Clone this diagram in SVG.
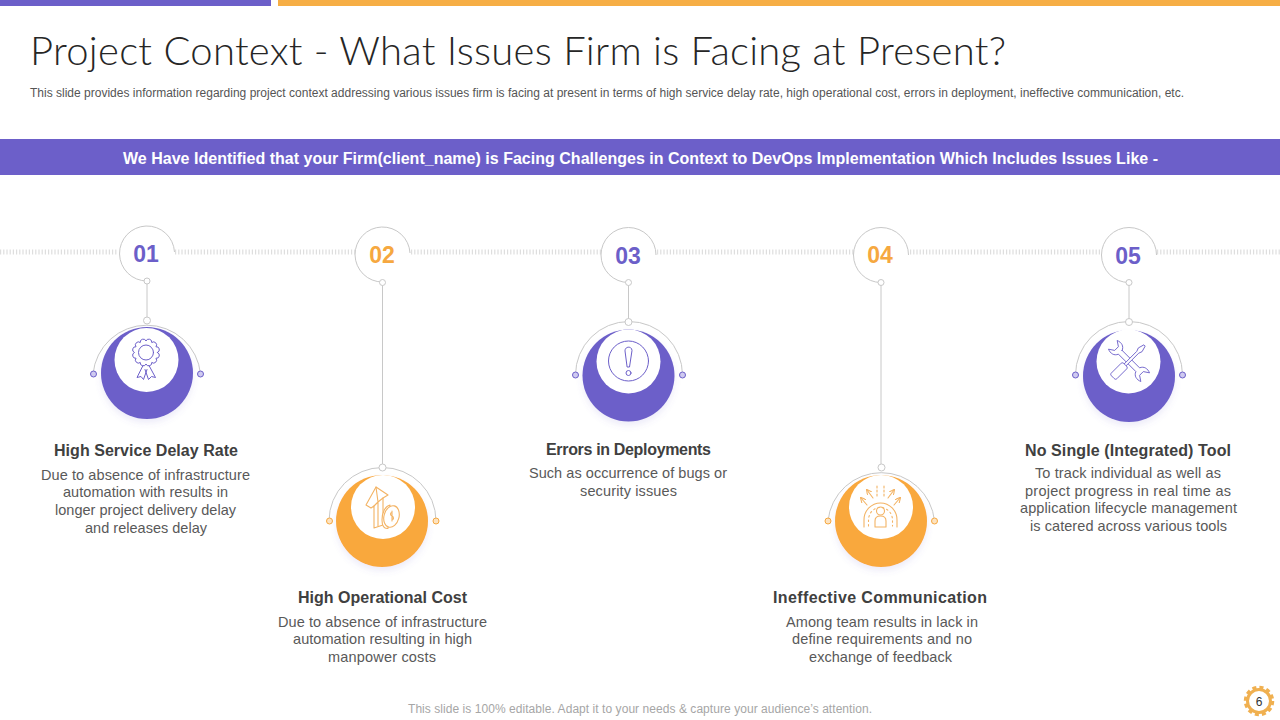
<svg xmlns="http://www.w3.org/2000/svg" width="1280" height="720" viewBox="0 0 1280 720">
<style>
text{font-family:"Liberation Sans",Arial,sans-serif}
.title{font-family:"Lato","Liberation Sans",sans-serif;font-weight:300;font-size:40px;fill:#262626}
.sub{font-size:12px;fill:#555}
.ban{font-size:16px;font-weight:700;fill:#fff;text-anchor:middle}
.foot{font-size:12px;fill:#a6a6a6;text-anchor:middle}
.num{font-size:23px;font-weight:700;text-anchor:middle}
.h{font-size:16px;font-weight:700;fill:#404040;text-anchor:middle}
.b{font-size:14.5px;fill:#595959;text-anchor:middle}
.arc{fill:none;stroke:#c8c8c8;stroke-width:1}
.knob{fill:#fff;stroke:#c8c8c8;stroke-width:1}
.conn{fill:none;stroke:#c8c8c8;stroke-width:1}
.tick{fill:none;stroke:#dedede;stroke-width:5;stroke-dasharray:1.2 2}
.p{fill:#6c5fc9}.o{fill:#f9a83e}
.pt{fill:#6c5fc9}.ot{fill:#f6a840}
.pd{fill:#cfcaf0;stroke:#6c5fc9;stroke-width:1}
.od{fill:#fde3c0;stroke:#f6a840;stroke-width:1}
.ip{fill:none;stroke:#6c5fc9;stroke-width:1;stroke-linejoin:round;stroke-linecap:round}
.io{fill:none;stroke:#f3b364;stroke-width:1.1;stroke-linejoin:round;stroke-linecap:round}
</style>
<defs>
<filter id="sh" x="-20%" y="-20%" width="140%" height="140%"><feDropShadow dx="0" dy="4" stdDeviation="3" flood-color="#6f61cf" flood-opacity="0.12"/></filter>
<marker id="ah" viewBox="0 0 6 6" refX="5" refY="3" markerWidth="5" markerHeight="5" orient="auto"><path d="M0 0L6 3L0 6" fill="none" stroke="#f3b364" stroke-width="1.2"/></marker>
</defs>
<rect width="1280" height="720" fill="#fff"/>
<g id="header">
<rect x="0" y="0" width="271" height="6" fill="#6c5fc9"/>
<rect x="278" y="0" width="1002" height="6" fill="#f6ae45"/>
<text class="title" x="30" y="65" textLength="976">Project Context - What Issues Firm is Facing at Present?</text>
<text class="sub" x="30" y="97" textLength="1154">This slide provides information regarding project context addressing various issues firm is facing at present in terms of high service delay rate, high operational cost, errors in deployment, ineffective communication, etc.</text>
<rect x="0" y="139" width="1280" height="36" fill="#6c5fc9"/>
<text class="ban" x="640.5" y="164" textLength="1035">We Have Identified that your Firm(client_name) is Facing Challenges in Context to DevOps Implementation Which Includes Issues Like -</text>
</g>
<g id="connectors">
<path class="tick" d="M0 252H118M175 252H355M411 252H601M657 252H854M910 252H1101M1157 252H1280"/>
<path class="conn" d="M147 284V317M382.500 285V464M628.500 285V319M881 285V464M1129 285V319"/>
</g>
<g id="node-1">
<path class="arc" d="M174.500 252A27.500 27.500 0 1 0 147 281"/>
<circle class="knob" cx="147" cy="281" r="3"/>
<text class="num pt" x="146" y="262">01</text>
<path class="arc" d="M93 374A54 54 0 0 1 200.500 374"/>
<circle class="knob" cx="147" cy="320.500" r="3.500"/>
<circle class="pd" cx="93.500" cy="374" r="3"/><circle class="pd" cx="200.500" cy="374" r="3"/>
<circle class="p" cx="147" cy="373" r="46" filter="url(#sh)"/>
<circle cx="146.500" cy="360" r="32" fill="#fff"/>
<g class="ip" transform="translate(146,352.500)">
<path d="M11.500 0A3 3 0 0 1 9.960 5.750A3 3 0 0 1 5.750 9.960A3 3 0 0 1 0 11.500A3 3 0 0 1 -5.750 9.960A3 3 0 0 1 -9.960 5.750A3 3 0 0 1 -11.500 0A3 3 0 0 1 -9.960 -5.750A3 3 0 0 1 -5.750 -9.960A3 3 0 0 1 0 -11.500A3 3 0 0 1 5.750 -9.960A3 3 0 0 1 9.960 -5.750A3 3 0 0 1 11.500 0Z"/>
<circle r="7.500"/>
<path d="M-3 13L-9 25L-5 24L-2.500 27L1 17M3 13L9.500 25L5.500 24L2.500 27L-1 17"/>
</g>
<text class="h" x="146" y="456" textLength="184">High Service Delay Rate</text>
<text class="b" x="145.500" y="480" textLength="209">Due to absence of infrastructure</text>
<text class="b" x="145.500" y="497" textLength="165">automation with results in</text>
<text class="b" x="145.500" y="515" textLength="181">longer project delivery delay</text>
<text class="b" x="146" y="533" textLength="122">and releases delay</text>
</g>
<g id="node-2">
<path class="arc" d="M410 253A27.500 27.500 0 1 0 382.500 282"/>
<circle class="knob" cx="382.500" cy="282.500" r="3"/>
<text class="num ot" x="382" y="263">02</text>
<path class="arc" d="M329 521A53.500 53.500 0 0 1 436 521"/>
<circle class="knob" cx="382.500" cy="467.500" r="3.500"/>
<circle class="od" cx="329.500" cy="521" r="3"/><circle class="od" cx="436" cy="521" r="3"/>
<circle class="o" cx="382" cy="521" r="46" filter="url(#sh)"/>
<circle cx="383" cy="507" r="32" fill="#fff"/>
<g class="io">
<path d="M376 487L388 495L383 498V525L374 528V506L371 508L366 505Z"/>
<path d="M376 487L378 502L374 506M378 502L383 498M378 502V526"/>
<path fill="#fff" d="M390 505C385 506 382 513 382 520C382 526 384 529 388 528.500Z"/>
<ellipse cx="391.500" cy="516.500" rx="7.500" ry="11" transform="rotate(15 391.500 516.500)" fill="#fff"/>
<path d="M392 512.500C390 512.500 390 515 392 516C394 517 394 519.500 392 519.500M392 511V521"/>
</g>
<text class="h" x="382.500" y="603" textLength="169">High Operational Cost</text>
<text class="b" x="382.500" y="627" textLength="209">Due to absence of infrastructure</text>
<text class="b" x="382.500" y="644" textLength="179">automation resulting in high</text>
<text class="b" x="382" y="662" textLength="108">manpower costs</text>
</g>
<g id="node-3">
<path class="arc" d="M656 255A27.500 27.500 0 1 0 628.500 282.500"/>
<circle class="knob" cx="628.500" cy="282.500" r="3"/>
<text class="num pt" x="628" y="264">03</text>
<path class="arc" d="M575.500 375A53.500 53.500 0 0 1 682.500 375"/>
<circle class="knob" cx="628.500" cy="322" r="3.500"/>
<circle class="pd" cx="575.500" cy="375" r="3"/><circle class="pd" cx="682.500" cy="375" r="3"/>
<circle class="p" cx="628.500" cy="375.500" r="46" filter="url(#sh)"/>
<circle cx="628.500" cy="361.500" r="32" fill="#fff"/>
<g class="ip">
<circle cx="628.500" cy="361" r="20"/>
<path d="M625 350.500C625 346 632 346 632 350.500L629.500 367H627.500Z"/>
<circle cx="628.500" cy="373" r="2.500"/>
</g>
<text class="h" x="628.500" y="455" textLength="165">Errors in Deployments</text>
<text class="b" x="628" y="478" textLength="198">Such as occurrence of bugs or</text>
<text class="b" x="628.500" y="496" textLength="97">security issues</text>
</g>
<g id="node-4">
<path class="arc" d="M908.500 255A27.500 27.500 0 1 0 881 282.500"/>
<circle class="knob" cx="881" cy="282.500" r="3"/>
<text class="num ot" x="880" y="263">04</text>
<path class="arc" d="M828 521A53.500 53.500 0 0 1 934.500 521"/>
<circle class="knob" cx="881.500" cy="467.500" r="3.500"/>
<circle class="od" cx="828" cy="521" r="3"/><circle class="od" cx="934.500" cy="521" r="3"/>
<circle class="o" cx="881" cy="521" r="46" filter="url(#sh)"/>
<circle cx="881" cy="507" r="32" fill="#fff"/>
<g class="io">
<path d="M864 527V520A16.500 17 0 0 1 897 520V527"/>
<path stroke-dasharray="1.500 3" d="M868.500 526V520A12 12.500 0 0 1 892.500 520V526"/>
<circle cx="880.500" cy="511" r="4"/>
<path d="M875 527V521C875 517 877 516 880.500 516C884 516 886 517 886 521V527Z"/>
<path marker-end="url(#ah)" d="M873 498L867 490"/>
<path marker-end="url(#ah)" d="M888 498L894 490"/>
<path stroke-dasharray="2 2" d="M877 496V486M884 496V486"/>
<path marker-end="url(#ah)" d="M867 505L861 498"/>
<path marker-end="url(#ah)" d="M894 505L900 498"/>
</g>
<text class="h" x="880" y="603" textLength="214">Ineffective Communication</text>
<text class="b" x="882" y="627" textLength="192">Among team results in lack in</text>
<text class="b" x="882" y="644" textLength="180">define requirements and no</text>
<text class="b" x="880.500" y="662" textLength="143">exchange of feedback</text>
</g>
<g id="node-5">
<path class="arc" d="M1156.500 255A27.500 27.500 0 1 0 1129 282.500"/>
<circle class="knob" cx="1129" cy="282.500" r="3"/>
<text class="num pt" x="1128" y="264">05</text>
<path class="arc" d="M1075.500 375A53.500 53.500 0 0 1 1182.500 375"/>
<circle class="knob" cx="1129" cy="322" r="3.500"/>
<circle class="pd" cx="1075.500" cy="375" r="3"/><circle class="pd" cx="1182.500" cy="375" r="3"/>
<circle class="p" cx="1129" cy="376" r="46" filter="url(#sh)"/>
<circle cx="1128.500" cy="361.500" r="32" fill="#fff"/>
<g class="ip" transform="translate(1129,361) scale(0.88)">
<g transform="rotate(45)">
<path fill="#fff" d="M-14 -3H14C16 -8 21 -9 26 -7L20 -3V3L26 7C21 9 16 8 14 3H-14C-16 8 -21 9 -26 7L-20 3V-3L-26 -7C-21 -9 -16 -8 -14 -3Z"/>
</g>
<g transform="rotate(-45)">
<path fill="#fff" d="M-6 -1.500H14L18 -3L25 -1V1L18 3L14 1.500H-6Z"/>
<path fill="#fff" d="M-26 -2.500C-26 -4 -25 -4.500 -24 -4.500H-8C-6.500 -4.500 -6 -3 -6 0C-6 3 -6.500 4.500 -8 4.500H-24C-25 4.500 -26 4 -26 2.500Z"/>
</g>
</g>
<text class="h" x="1128" y="456" textLength="206">No Single (Integrated) Tool</text>
<text class="b" x="1128" y="478" textLength="186">To track individual as well as</text>
<text class="b" x="1128" y="496" textLength="206">project progress in real time as</text>
<text class="b" x="1128.500" y="513" textLength="217">application lifecycle management</text>
<text class="b" x="1128.500" y="531" textLength="197">is catered across various tools</text>
</g>
<g id="footer">
<text class="foot" x="640" y="713" textLength="464">This slide is 100% editable. Adapt it to your needs &amp; capture your audience’s attention.</text>
<circle cx="1259" cy="701" r="13.500" fill="none" stroke="#f0b050" stroke-width="3.500" stroke-dasharray="4 3.070"/>
<circle cx="1259" cy="701" r="11.500" fill="#fff" stroke="#f0b050" stroke-width="3"/>
<text x="1259" y="705.500" font-size="12" fill="#333" text-anchor="middle">6</text>
</g>
</svg>
